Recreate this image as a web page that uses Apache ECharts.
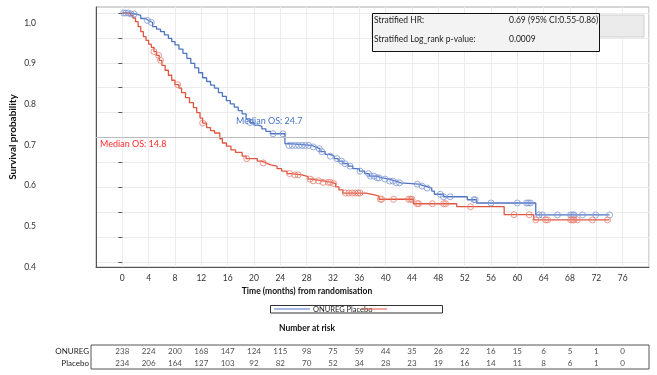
<!DOCTYPE html>
<html><head><meta charset="utf-8">
<script src="https://cdn.jsdelivr.net/npm/echarts@6/dist/echarts.min.js"></script>
<style>html,body{margin:0;padding:0;background:#fff}#c{width:657px;height:375px}</style>
</head><body><div id="c"></div>
<script>
// ---- data ----
const xTicks = [0,4,8,12,16,20,24,28,32,36,40,44,48,52,56,60,64,68,72,76];
const yTickLabels = [0.4,0.5,0.6,0.7,0.8,0.9,1.0];
const groups = ['ONUREG','Placebo'];
const riskOnureg  = [238,224,200,168,147,124,115,98,75,59,44,35,26,22,16,15,6,5,1,0];
const riskPlacebo = [234,206,164,127,103,92,82,70,52,34,28,23,19,16,14,11,8,6,1,0];

const onuregKM = [[0,1],[1.0,0.996],[2.0,0.99],[2.8,0.978],[3.5,0.97],[4.0,0.962],[4.6,0.945],[5.2,0.935],[5.8,0.925],
 [6.4,0.912],[7.0,0.898],[7.5,0.885],[8.0,0.872],[8.6,0.855],[9.2,0.838],[9.8,0.818],[10.4,0.798],[11.0,0.78],
 [11.6,0.76],[12.2,0.74],[12.8,0.725],[13.4,0.71],[14.0,0.698],[14.6,0.68],[15.2,0.665],[15.8,0.648],[16.4,0.635],
 [17.0,0.622],[17.6,0.608],[18.2,0.595],[18.8,0.575],[19.4,0.56],[20.0,0.55],[20.6,0.545],[21.2,0.535],[21.8,0.525],
 [22.5,0.515],[24.7,0.475],[25.3,0.468],[28.8,0.462],[29.3,0.455],[30.0,0.443],[30.8,0.432],[31.5,0.425],[32.2,0.415],
 [32.8,0.405],[33.5,0.395],[34.3,0.385],[35.0,0.375],[36.0,0.365],[36.8,0.355],[37.5,0.345],[38.5,0.338],[39.5,0.333],
 [40.5,0.325],[41.5,0.318],[42.3,0.313],[45.0,0.305],[46.0,0.297],[47.0,0.285],[47.4,0.272],[48.8,0.262],[52.4,0.25],
 [53.8,0.237],[62.8,0.189],[74.0,0.189]];
const placeboKM = [[0,1],[1.2,0.99],[1.6,0.98],[2.0,0.965],[2.4,0.945],[2.8,0.925],[3.2,0.905],[3.6,0.89],[4.0,0.875],
 [4.4,0.862],[4.8,0.845],[5.2,0.83],[5.6,0.81],[6.0,0.79],[6.5,0.77],[7.0,0.75],[7.5,0.73],[8.0,0.712],[8.6,0.698],
 [9.0,0.68],[9.6,0.66],[10.2,0.64],[10.8,0.62],[11.3,0.6],[11.8,0.578],[12.2,0.558],[12.8,0.54],[13.4,0.528],[14.0,0.518],
 [14.8,0.495],[15.2,0.478],[15.8,0.465],[16.5,0.45],[17.2,0.44],[18.2,0.425],[18.8,0.415],[20.5,0.405],[21.2,0.398],
 [21.8,0.39],[22.5,0.385],[23.5,0.375],[24.2,0.365],[25.0,0.355],[25.6,0.35],[27.3,0.343],[28.2,0.333],[28.6,0.326],
 [30.5,0.32],[31.8,0.315],[32.4,0.302],[32.9,0.29],[33.5,0.277],[37.0,0.27],[38.3,0.265],[39.0,0.252],[44.2,0.234],
 [50.8,0.222],[58.0,0.19],[62.5,0.169],[74.0,0.169]];

const onuregCensor = [0.2,0.5,0.9,1.3,1.8,3.8,4.4,19.4,22.9,24.4,25.3,25.8,26.3,26.8,27.3,27.8,28.3,29.0,29.9,30.3,
 31.6,32.6,33.3,33.8,34.6,36.1,37.4,37.7,38.2,38.7,39.0,39.9,40.6,41.1,41.6,42.1,44.8,45.5,46.3,48.3,48.8,49.8,
 53.4,53.6,56.0,60.0,61.4,61.7,62.0,63.3,63.8,66.1,68.1,68.4,68.6,69.9,71.9,74.0];
const placeboCensor = [4.8,5.5,5.8,8.4,12.2,18.9,21.4,25.4,26.2,26.7,28.5,29.0,29.8,30.5,31.3,31.6,32.1,33.9,34.4,
 34.9,35.4,35.8,36.1,39.2,39.4,41.2,43.5,43.8,44.0,44.8,45.0,47.1,48.8,49.1,52.9,59.5,61.8,62.8,64.3,64.6,68.1,
 68.4,68.6,69.1,71.4,73.7];

const medianLevel = 0.5;
const statRows = [['Stratified HR:','0.69 (95% CI:0.55-0.86)'],['Stratified Log_rank p-value:','0.0009']];

// ---- helpers ----
function survAt(km, t){ let s = km[0][1]; for (const p of km){ if (p[0] <= t + 1e-9) s = p[1]; else break; } return s; }
const cOn = onuregCensor.map(t => [t, survAt(onuregKM, t)]);
const cPl = placeboCensor.map(t => [t, survAt(placeboKM, t)]);
const riskData = [];
xTicks.forEach((t,i) => { riskData.push([t, groups[0], riskOnureg[i]]); riskData.push([t, groups[1], riskPlacebo[i]]); });

const FONT = "Lato, 'Open Sans', sans-serif";
const BLUE = '#4f74c4', RED = '#e0553f';
const GRID_C = '#ececec';

const chart = echarts.init(document.getElementById('c'), null, {renderer:'canvas'});
const gfx = [
    {type:'text', left:236, top:117, style:{text:'Median OS: 24.7', fill:'#4472c4', font:'9px '+FONT}},
    {type:'text', left:100, top:140, style:{text:'Median OS: 14.8', fill:'#ff2a2a', font:'9px '+FONT}},
    {type:'rect', shape:{x:372, y:15, width:272, height:22}, style:{fill:'#ebebeb', stroke:'#d0d0d0', lineWidth:1}},
    {type:'rect', shape:{x:372.5, y:13.5, width:227, height:38}, style:{fill:'#f3f3f3', stroke:'#111', lineWidth:1}},
    {type:'text', x:374, y:20, style:{text:statRows[0][0], fill:'#222', font:'8.5px '+FONT, verticalAlign:'middle'}},
    {type:'text', x:509, y:20, style:{text:statRows[0][1], fill:'#222', font:'8.5px '+FONT, verticalAlign:'middle'}},
    {type:'text', x:374, y:39, style:{text:statRows[1][0], fill:'#222', font:'8.5px '+FONT, verticalAlign:'middle'}},
    {type:'text', x:509, y:39, style:{text:statRows[1][1], fill:'#222', font:'8.5px '+FONT, verticalAlign:'middle'}},
    {type:'text', x:307, y:291, style:{text:'Time (months) from randomisation', fill:'#111', font:'bold 8.5px '+FONT, align:'center', verticalAlign:'middle'}},
    {type:'rect', shape:{x:270.5, y:305.5, width:172, height:7.5}, style:{fill:'#fff', stroke:'#333', lineWidth:1}},
    {type:'line', shape:{x1:274, y1:309, x2:310, y2:309}, style:{stroke:BLUE, lineWidth:1}},
    {type:'text', x:313, y:309.5, style:{text:groups[0]+' '+groups[1], fill:'#222', font:'7.5px '+FONT, verticalAlign:'middle'}},
    {type:'line', shape:{x1:363, y1:309, x2:387, y2:309}, style:{stroke:RED, lineWidth:1}},
    {type:'text', x:307, y:328, style:{text:'Number at risk', fill:'#111', font:'bold 8.5px '+FONT, align:'center', verticalAlign:'middle'}}
];
gfx.forEach((g,i) => { g.z = 100 + i; });

chart.setOption({
  animation:false,
  textStyle:{fontFamily:FONT},
  grid:[
    {left:96, right:8, top:13, bottom:113, outerBoundsMode:'none', containLabel:false},
    {left:96, right:8, top:7, bottom:108, show:true, borderColor:'#aaa', borderWidth:1, outerBoundsMode:'none', containLabel:false},
    {left:91, right:8, top:345, bottom:6, show:true, borderColor:'#555', borderWidth:1, outerBoundsMode:'none', containLabel:false}
  ],
  xAxis:[
    {gridIndex:0, type:'value', min:-4, max:80, show:false},
    {gridIndex:1, type:'value', min:-4, max:80, interval:4,
     axisLine:{show:true, onZero:false, lineStyle:{color:'#555'}}, axisTick:{show:false},
     axisLabel:{fontSize:8.5, color:'#333', margin:7, showMinLabel:false, showMaxLabel:false,
       formatter: v => (xTicks.indexOf(v) >= 0 ? String(v) : '')},
     splitLine:{show:true, lineStyle:{color:GRID_C}}},
    {gridIndex:2, type:'value', min:-4.755, max:80, show:false}
  ],
  yAxis:[
    {gridIndex:0, type:'value', min:0, max:1, interval:0.1,
     axisLine:{show:false}, axisTick:{show:true, length:4, lineStyle:{color:'#555'}},
     axisLabel:{show:false}, splitLine:{show:true, lineStyle:{color:GRID_C}}},
    {gridIndex:1, type:'value', min:0.4, max:1.039, interval:0.1,
     axisLine:{show:true, onZero:false, lineStyle:{color:'#555'}}, axisTick:{show:false}, splitLine:{show:false},
     axisLabel:{fontSize:8.5, color:'#333', margin:60, showMaxLabel:false,
       formatter: v => { const k = yTickLabels.find(l => Math.abs(l - v) < 1e-6); return k === undefined ? '' : k.toFixed(1); }},
     name:'Survival probability', nameLocation:'middle', nameGap:78, nameMoveOverlap:false,
     nameTextStyle:{fontSize:10, fontWeight:'bold', color:'#111'}},
    {gridIndex:2, type:'category', data:groups, inverse:true,
     axisLine:{show:false}, axisTick:{show:false}, splitLine:{show:false},
     axisLabel:{fontSize:8, color:'#222', margin:2}}
  ],
  series:[
    {type:'line', name:'ONUREG', xAxisIndex:0, yAxisIndex:0, data:onuregKM, step:'end', symbol:'none',
     lineStyle:{color:BLUE, width:1.3}, z:3,
     markLine:{silent:true, symbol:'none', label:{show:false}, lineStyle:{color:'#bdbdbd', type:'solid', width:1},
       data:[{yAxis:medianLevel}]}},
    {type:'line', name:'Placebo', xAxisIndex:0, yAxisIndex:0, data:placeboKM, step:'end', symbol:'none',
     lineStyle:{color:RED, width:1.3}, z:3},
    {type:'scatter', xAxisIndex:0, yAxisIndex:0, data:cOn, symbol:'circle', symbolSize:6, z:4,
     itemStyle:{color:'rgba(255,255,255,0)', borderColor:'#7d97d4', borderWidth:1}},
    {type:'scatter', xAxisIndex:0, yAxisIndex:0, data:cPl, symbol:'circle', symbolSize:6, z:4,
     itemStyle:{color:'rgba(255,255,255,0)', borderColor:'#e8806f', borderWidth:1}},
    {type:'scatter', xAxisIndex:2, yAxisIndex:2, data:riskData, symbolSize:1, silent:true,
     itemStyle:{color:'rgba(0,0,0,0)'},
     label:{show:true, position:'inside', formatter: p => String(p.value[2]), fontSize:8, color:'#222'}}
  ],
  graphic:gfx
});
</script></body></html>
